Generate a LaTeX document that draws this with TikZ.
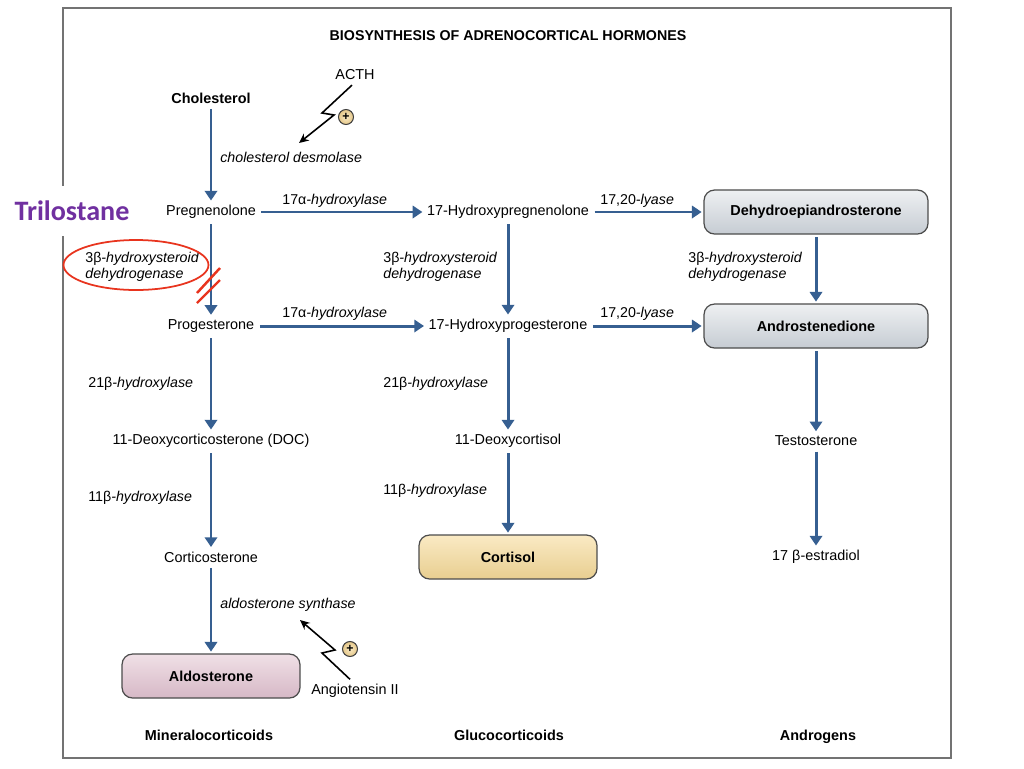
\documentclass[tikz,border=0pt]{standalone}
\usepackage{fontspec}
\setmainfont{Liberation Sans}
\newfontfamily\trilofont{Carlito}
\usetikzlibrary{arrows.meta, shapes.geometric}

\definecolor{pathblue}{RGB}{54,95,145}
\definecolor{trilopurple}{RGB}{112,48,160}
\definecolor{blockred}{RGB}{232,52,30}
\definecolor{greytop}{RGB}{238,240,242}
\definecolor{greybot}{RGB}{198,204,211}
\definecolor{tantop}{RGB}{250,234,196}
\definecolor{tanbot}{RGB}{232,206,144}
\definecolor{mauvetop}{RGB}{240,224,230}
\definecolor{mauvebot}{RGB}{214,184,198}

\begin{document}
\begin{tikzpicture}[x = 0.02cm, y = -0.02cm,
    every node/.style = {font = \fontsize{8.2}{9}\selectfont, inner sep = 1.5pt},
    enzyme/.style = {anchor = west, align = left, inner xsep = 0pt, font = \fontsize{8.1}{9}\selectfont\itshape},
    flow/.style = {pathblue, line width = 1.7pt, -{Triangle[length = 5.5pt, width = 7pt]}, shorten > = 1pt, shorten < = 1.5pt},
    trigger/.style = {black, line width = 0.9pt, -{Stealth[length = 5.5pt, width = 5pt]}},
    plus/.style = {circle, draw = black!75, line width = .6pt, inner sep = 0pt, minimum size = 0.3cm,
      inner color = tantop, outer color = tanbot!90!brown, font = \fontsize{7}{7}\selectfont\bfseries},
    hormone/.style = {draw = black!70, line width = .7pt, rounded corners = 6pt, minimum height = 0.88cm,
      font = \fontsize{8.2}{9}\selectfont\bfseries},
    class/.style = {anchor = base, font = \fontsize{8.2}{9}\selectfont\bfseries}
  ]

    \useasboundingbox (0,0) rectangle (1024,768);
    \draw [black!55, line width = 1.4pt] (63,8) rectangle (951,758);

    \node [font = \fontsize{8.1}{9}\selectfont\bfseries] (title) at (508,36) {BIOSYNTHESIS OF ADRENOCORTICAL HORMONES};

    % mineralocorticoid column
    \node [font = \fontsize{8.2}{9}\selectfont\bfseries] (chol) at (211,98) {Cholesterol};
    \node (preg) at (211,212) {Pregnenolone};
    \node (prog) at (211,326) {Progesterone};
    \node (doc) at (211,441) {11-Deoxycorticosterone (DOC)};
    \node (cortico) at (211,557) {Corticosterone};
    \node [hormone, minimum width = 3.56cm, top color = mauvetop, bottom color = mauvebot] (aldo) at (211,676) {Aldosterone};

    % glucocorticoid column
    \node (hpreg) at (508,212) {17-Hydroxypregnenolone};
    \node (hprog) at (508,326) {17-Hydroxyprogesterone};
    \node (deoxy) at (508,441) {11-Deoxycortisol};
    \node [hormone, minimum width = 3.56cm, top color = tantop, bottom color = tanbot] (cortisol) at (508,557) {Cortisol};

    % androgen column
    \node [hormone, minimum width = 4.48cm, top color = greytop, bottom color = greybot] (dhea) at (816,212) {Dehydroepiandrosterone};
    \node [hormone, minimum width = 4.48cm, top color = greytop, bottom color = greybot] (andro) at (816,326) {Androstenedione};
    \node (testo) at (816,441) {Testosterone};
    \node (estra) at (816,557) {17 \textup{β}-estradiol};

    \draw [flow] (chol) -- (preg);
    \draw [flow] (preg) -- (prog);
    \draw [flow] (prog) -- (doc);
    \draw [flow] (doc) -- (cortico);
    \draw [flow] (cortico) -- (aldo);
    \draw [flow] (hpreg) -- (hprog);
    \draw [flow] (hprog) -- (deoxy);
    \draw [flow] (deoxy) -- (cortisol);
    \draw [flow] (dhea) -- (andro);
    \draw [flow] (andro) -- (testo);
    \draw [flow] (testo) -- (estra);
    \draw [flow] (preg) -- (hpreg);
    \draw [flow] (hpreg) -- (dhea);
    \draw [flow] (prog) -- (hprog);
    \draw [flow] (hprog) -- (andro);

    % enzymes
    \node [enzyme] (desmolase) at (220,157) {cholesterol desmolase};
    \node [enzyme] (hsdA) at (85,267) {\textup{3β}-hydroxysteroid\\dehydrogenase};
    \node [enzyme] (hsdB) at (383,267) {\textup{3β}-hydroxysteroid\\dehydrogenase};
    \node [enzyme] (hsdC) at (688,267) {\textup{3β}-hydroxysteroid\\dehydrogenase};
    \node [enzyme] (hydroxA) at (282,201) {\textup{17α}-hydroxylase};
    \node [enzyme] (hydroxB) at (282,314) {\textup{17α}-hydroxylase};
    \node [enzyme] (lyaseA) at (600,201) {\textup{17,20}-lyase};
    \node [enzyme] (lyaseB) at (600,314) {\textup{17,20}-lyase};
    \node [enzyme] (cypA) at (88,384) {\textup{21β}-hydroxylase};
    \node [enzyme] (cypB) at (383,384) {\textup{21β}-hydroxylase};
    \node [enzyme] (elevA) at (88,498) {\textup{11β}-hydroxylase};
    \node [enzyme] (elevB) at (383,491) {\textup{11β}-hydroxylase};
    \node [enzyme] (synth) at (220,605) {aldosterone synthase};

    % stimuli
    \node (acth) at (355,75) {ACTH};
    \node [plus] (acthplus) at (346,117) {+};
    \coordinate (acthzigA) at (322,113);
    \coordinate (acthzigB) at (334,115);
    \coordinate (acthtip) at (299,143);
    \draw [trigger] (acth.south) ++(-3,2) -- (acthzigA) -- (acthzigB) -- (acthtip);

    \node (angio) at (355,691) {Angiotensin II};
    \node [plus] (angioplus) at (350,649) {+};
    \coordinate (angiozigA) at (322,653);
    \coordinate (angiozigB) at (335,650);
    \coordinate (angiotip) at (300,620);
    \draw [trigger] (angio.north) ++(-5,-2) -- (angiozigA) -- (angiozigB) -- (angiotip);

    \node [class] (mineral) at (209,740) {Mineralocorticoids};
    \node [class] (gluco) at (509,740) {Glucocorticoids};
    \node [class] (andrgn) at (818,740) {Androgens};

    % inhibitor
    \node [fill = white, minimum height = 1cm, inner xsep = 2pt, text = trilopurple, font = \trilofont\fontsize{16}{18}\selectfont\bfseries] (trilo) at (72,211) {Trilostane};
    \node [ellipse, draw = blockred, line width = 1pt, minimum width = 2.9cm, minimum height = 1cm] (ring) at (136,265) {};
    \draw [blockred, line width = 1.4pt] (197,293) -- (220,268);
    \draw [blockred, line width = 1.4pt] (197,303) -- (220,280);

\end{tikzpicture}
\end{document}
